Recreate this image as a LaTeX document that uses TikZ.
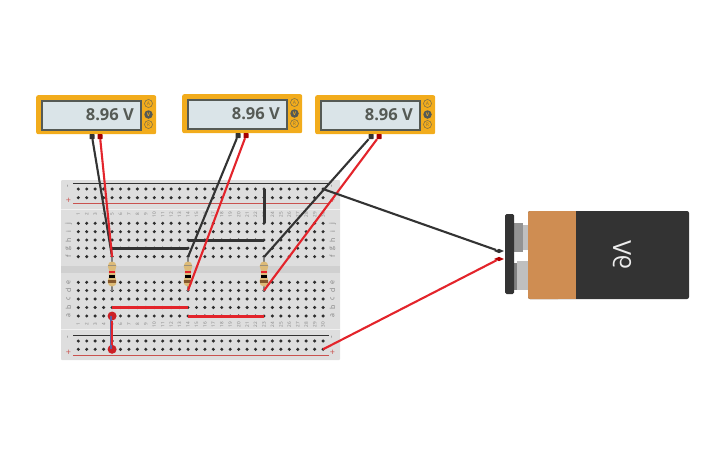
\documentclass[tikz,border=0pt]{standalone}
\usepackage{fontspec}
\setmainfont{Open Sans}
\usetikzlibrary{shapes.geometric}

\definecolor{boardgray}{HTML}{DEDEDE}
\definecolor{troughgray}{HTML}{D0D0D0}
\definecolor{holeblack}{HTML}{2E2E2E}
\definecolor{wireblack}{HTML}{333333}
\definecolor{wirered}{HTML}{E3242B}
\definecolor{railred}{HTML}{C9524F}
\definecolor{meteryellow}{HTML}{F2AC1C}
\definecolor{screenblue}{HTML}{DAE4E8}
\definecolor{screenedge}{HTML}{555A55}
\definecolor{copper}{HTML}{CF8D52}
\definecolor{tanbody}{HTML}{DDBB78}

\tikzset{
  meterbody/.style={fill=meteryellow, rounded corners=2pt, minimum width=120pt, minimum height=39pt, inner sep=0pt},
  meterscreen/.style={fill=screenblue, draw=screenedge, line width=1.6pt, minimum width=99pt, minimum height=29pt, inner sep=0pt},
  readout/.style={font=\bfseries\fontsize{16.5}{16.5}\selectfont, text=screenedge, anchor=east, inner sep=0pt},
  dial/.style={circle, draw=screenedge!70!meteryellow, line width=.6pt, minimum size=8pt, inner sep=0pt, font=\fontsize{5}{5}\selectfont, text=screenedge!70!meteryellow},
  dialon/.style={circle, fill=screenedge, minimum size=8.5pt, inner sep=0pt, font=\bfseries\fontsize{5}{5}\selectfont, text=meteryellow},
  pinblack/.style={fill=wireblack, rounded corners=.5pt, minimum width=5pt, minimum height=5pt, inner sep=0pt},
  pinred/.style={fill=red!65!black, rounded corners=.5pt, minimum width=5pt, minimum height=5pt, inner sep=0pt},
  wireb/.style={draw=wireblack, line width=2.1pt},
  wirer/.style={draw=wirered, line width=2.1pt},
  shortwire/.style={line width=2.7pt},
  boardtext/.style={font=\fontsize{4.6}{5}\selectfont, text=gray, inner sep=0pt, rotate=90},
  dotred/.style={circle, fill=wirered!90!black, minimum size=9pt, inner sep=0pt},
  lead/.style={fill=wireblack, diamond, minimum width=10pt, minimum height=4.5pt, inner sep=0pt}
}

\begin{document}
\begin{tikzpicture}[x=1pt,y=-1pt]
\useasboundingbox (0,0) rectangle (725,453);

% breadboard
\fill[boardgray, rounded corners=1pt] (61,180) rectangle (340,360);
\fill[troughgray] (61,266) rectangle (340,273);
\draw[white!55!boardgray, line width=.8pt] (61,209.5) -- (340,209.5);
\draw[white!55!boardgray, line width=.8pt] (61,329.5) -- (340,329.5);
\draw[wireblack, line width=1pt] (73,183.5) -- (329,183.5);
\draw[railred, line width=1pt] (73,203.5) -- (329,203.5);
\draw[wireblack, line width=1pt] (73,335.5) -- (329,335.5);
\draw[railred, line width=1pt] (73,355.5) -- (329,355.5);

% holes
\foreach \col in {1,...,30} {
  \pgfmathsetmacro{\xa}{78.3+(\col-1)*8.44}
  \foreach \row in {189,197.7,223.3,231.7,240,248.2,256.6,282.3,290.5,299,307.5,316,341,349.3}
    \fill[holeblack] (\xa,\row) circle (1.7pt);
  \node[boardtext] at (\xa,214.5) {\col};
  \node[boardtext] at (\xa,324.5) {\col};
}
\foreach \y/\a in {223.3/j,231.7/i,240/h,248.2/g,256.6/f,282.3/e,290.5/d,299/c,307.5/b,316/a} {
  \node[boardtext, font=\fontsize{7}{7}\selectfont] at (68.5,\y) {\a};
  \node[boardtext, font=\fontsize{7}{7}\selectfont] at (332.5,\y) {\a};
}
\foreach \x in {68.5,332.5} {
  \node[font=\fontsize{8}{8}\selectfont, text=gray, rotate=90, inner sep=0pt] at (\x,186.5) {-};
  \node[font=\fontsize{8}{8}\selectfont, text=gray, rotate=90, inner sep=0pt] at (\x,337.5) {-};
  \node[font=\fontsize{9}{9}\selectfont, text=railred, inner sep=0pt] at (\x,201) {+};
  \node[font=\fontsize{9}{9}\selectfont, text=railred, inner sep=0pt] at (\x,352.5) {+};
}

% resistors
\foreach \x/\name in {112.1/ra,188/rb,264/rc} {
  \draw[gray, line width=1.3pt] (\x,257) -- (\x,291);
  \fill[tanbody] (\x-4.3,266) .. controls (\x-4.3,260) and (\x+4.3,260) .. (\x+4.3,266)
    -- (\x+3.2,270) -- (\x+3.2,277) -- (\x+4.4,281) .. controls (\x+4.4,288.5) and (\x-4.4,288.5) .. (\x-4.4,281)
    -- (\x-3.2,277) -- (\x-3.2,270) -- cycle;
  \fill[gray!70!tanbody] (\x-4,265) rectangle (\x+4,266);
  \fill[wirered] (\x-3.2,270.5) rectangle (\x+3.2,273);
  \fill[black] (\x-3.2,275.3) rectangle (\x+3.2,278);
  \fill[brown!70!black] (\x-4.2,280.3) rectangle (\x+4.2,283);
  \coordinate (\name-top) at (\x,257);
  \coordinate (\name-end) at (\x,290.5);
}

% meters
\foreach \x/\y/\name in {36/95/ma,182/94/mb,315/95/mc} {
  \node[meterbody, anchor=north west] (\name) at (\x,\y) {};
  \node[meterscreen, anchor=north west] (\name-screen) at (\x+5,\y+5) {};
  \node[readout] (\name-read) at (\x+98,\y+19.5) {8.96 V};
  \node[dial] (\name-a) at (\x+112.5,\y+8.5) {A};
  \node[dialon] (\name-v) at (\x+112.5,\y+19.5) {V};
  \node[dial] (\name-r) at (\x+112.5,\y+29.5) {R};
  \node[pinblack] (\name-neg) at (\x+56,\y+41.5) {};
  \node[pinred] (\name-pos) at (\x+64,\y+41.5) {};
}

% battery
\fill[gray!85] (513,223) rectangle (523,252);
\fill[gray!50] (523,225) rectangle (528,250);
\fill[gray] (513,263) rectangle (517,290);
\fill[gray!50] (517,261) rectangle (528,290);
\fill[wireblack, rounded corners=1.5pt] (505,214) rectangle (514,294);
\fill[wireblack, rounded corners=2pt] (528,211) rectangle (689,299);
\fill[copper, rounded corners=2pt] (528,211) rectangle (560,299);
\fill[copper] (540,211) rectangle (576,299);
\node[text=white!85!gray, font=\fontsize{25}{25}\selectfont, inner sep=0pt, xscale=-1, rotate=90] (nine) at (622,255) {9V};
\node[lead] (batneg) at (499,251) {};
\node[lead, fill=red!70!black] (batpos) at (499,259) {};

% board points
\coordinate (railneg) at (323,189);
\coordinate (railpos) at (323,349.3);
\coordinate (ga) at (112.1,248.2);
\coordinate (gb) at (188,248.2);
\coordinate (ha) at (188,240.4);
\coordinate (hb) at (264,240.4);
\coordinate (ja) at (264.4,189);
\coordinate (jb) at (264.4,223.3);
\coordinate (ba) at (112.1,307.5);
\coordinate (bb) at (188,307.5);
\coordinate (aa) at (188,316.4);
\coordinate (ab) at (264,316.4);

% wires
\draw[wireb, shortwire] (ga) -- (gb);
\draw[wireb, shortwire] (ha) -- (hb);
\draw[wireb, shortwire] (ja) -- (jb);
\draw[wirer, shortwire] (ba) -- (bb);
\draw[wirer, shortwire] (aa) -- (ab);
\node[dotred] (dottop) at (112.1,316) {};
\node[dotred] (dotbot) at (112.1,349.3) {};
\draw[blue!25!gray, line width=1.6pt] ([xshift=-1.4pt]dottop.center) -- ([xshift=-1.4pt]dotbot.center);
\draw[wirer, shortwire] (dottop) -- (dotbot);
\draw[wireb] (ma-neg) -- (ra-top);
\draw[wirer] (ma-pos) -- (ra-top);
\draw[wireb] (mb-neg) -- (rb-top);
\draw[wirer] (mb-pos) -- (rb-end);
\draw[wireb] (mc-neg) -- (rc-top);
\draw[wirer] (mc-pos) -- (rc-end);
\draw[wireb] (railneg) -- (batneg);
\draw[wirer] (railpos) -- (batpos);
\end{tikzpicture}
\end{document}
